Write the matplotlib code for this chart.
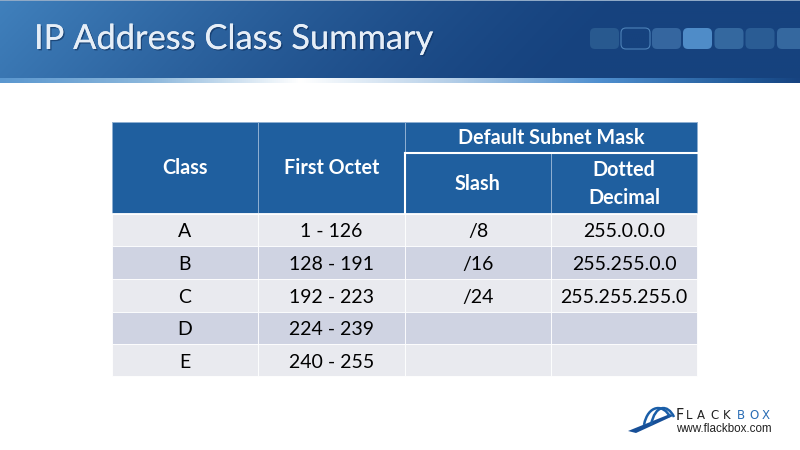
import matplotlib
matplotlib.use('Agg')
import matplotlib.pyplot as plt
import matplotlib.patheffects as pe
import numpy as np
from matplotlib.patches import Rectangle, FancyBboxPatch, Polygon, PathPatch
from matplotlib.path import Path

# Table contents
title = 'IP Address Class Summary'
classes = ['A', 'B', 'C', 'D', 'E']
first_octet = ['1 - 126', '128 - 191', '192 - 223', '224 - 239', '240 - 255']
slash = ['/8', '/16', '/24', '', '']
dotted = ['255.0.0.0', '255.255.0.0', '255.255.255.0', '', '']

col_edges = [112, 258, 405, 551, 697]
row_edges = [213.5, 246, 279, 311.5, 344, 376]

blue = '#1f5f9f'
light = '#e9eaef'
dark = '#cfd3e2'
font = 'Lato'

fig = plt.figure(figsize=(8, 4.5), dpi=100)
ax = fig.add_axes([0, 0, 1, 1])

# Banner gradient
xx = np.linspace(0, 1, 400)
yy = np.linspace(0, 1, 40)
gx, gy = np.meshgrid(xx, yy)
left = np.array([0x40, 0x80, 0xbc]) / 255
right = np.array([0x16, 0x42, 0x7e]) / 255
t = np.clip(gx / 0.8 + 0.12 * gy, 0, 1)[..., None]
grad = left * (1 - t) ** 1.4 + right * (1 - (1 - t) ** 1.4)
ax.imshow(grad, extent=[0, 800, 83, 0], aspect='auto', zorder=0)
ax.add_patch(Rectangle((0, 0), 800, 1.2, color='#8fa9c6', lw=0, zorder=1))

# Glow strip under the banner
stops_x = [0, 150, 300, 450, 600, 750, 800]
stops_r = [0x5a, 0x8d, 0xff, 0xb5, 0x4f, 0x1f, 0x17]
stops_g = [0x97, 0xb8, 0xff, 0xcf, 0x8f, 0x57, 0x43]
stops_b = [0xcf, 0xdc, 0xff, 0xe8, 0xcf, 0x96, 0x80]
px = xx * 800
strip = np.ones((1, 400, 3))
strip[0, :, 0] = np.interp(px, stops_x, stops_r) / 255
strip[0, :, 1] = np.interp(px, stops_x, stops_g) / 255
strip[0, :, 2] = np.interp(px, stops_x, stops_b) / 255
ax.imshow(strip, extent=[0, 800, 83, 78], aspect='auto', zorder=1)
ax.set_xlim(0, 800)
ax.set_ylim(450, 0)
ax.axis('off')

ax.text(34, 49, title, color='#e6eef7', fontsize=24.8, family='Lato',
        va='baseline', ha='left', zorder=3,
        path_effects=[pe.withSimplePatchShadow(offset=(1, -1), shadow_rgbFace='#0c2c58', alpha=0.6), pe.Normal()])

# Navigation squares
sq_x = [590, 621, 652, 683, 714.5, 745.5, 777]
sq_col = ['#28598f', None, '#35669f', '#4f8cc8', '#34689f', '#2a5c94', '#35689f']
for x, c in zip(sq_x, sq_col):
    ec = '#4d82b8' if c is None else 'none'
    ax.add_patch(FancyBboxPatch((x + 4, 32), 21, 13, boxstyle='round,pad=4,rounding_size=5',
                                fc=c if c else 'none', ec=ec, lw=0.8, zorder=2))

# Table body
for i in range(5):
    for j in range(4):
        c = light if i % 2 == 0 else dark
        ax.add_patch(Rectangle((col_edges[j], row_edges[i]),
                               col_edges[j + 1] - col_edges[j], row_edges[i + 1] - row_edges[i],
                               fc=c, ec='white', lw=0.6, zorder=2))
    cells = [classes[i], first_octet[i], slash[i], dotted[i]]
    yc = (row_edges[i] + row_edges[i + 1]) / 2
    for j, s in enumerate(cells):
        xc = (col_edges[j] + col_edges[j + 1]) / 2
        ax.text(xc, yc + 2, s, fontsize=14, family=font, color='black',
                ha='center', va='center', zorder=3)

# Header cells
hdr = [(112, 122, 146, 91), (258, 122, 147, 91), (405, 122, 292, 31),
       (405, 153, 146, 60), (551, 153, 146, 60)]
for x, y, w, h in hdr:
    ax.add_patch(Rectangle((x, y), w, h, fc=blue, ec='#8fb0d2', lw=0.7, zorder=2))
ax.plot([405, 697], [153, 153], color='white', lw=1.5, zorder=3)
ax.plot([405, 405], [153, 213], color='white', lw=1.5, zorder=3)
ax.plot([112, 697], [213.5, 213.5], color='white', lw=1.2, zorder=3)

hdr_txt = [(185, 168.5, 'Class'), (332, 168.5, 'First Octet'), (551, 138.5, 'Default Subnet Mask'),
           (478, 184.5, 'Slash'), (624, 170.5, 'Dotted'), (624, 198, 'Decimal')]
for x, y, s in hdr_txt:
    ax.text(x, y, s, fontsize=14.2, family=font, fontweight='bold', color='white',
            ha='center', va='center', zorder=4)

# Logo
logo_blue = '#1a5ea8'
ax.add_patch(Polygon([[628, 431], [670, 414], [673, 416], [636, 433]], fc='#174f97', ec='none', zorder=3))
for x0, x1 in [(644, 670), (651, 674)]:
    arc = Path([(x0, 425), (x0 + 4, 404), (x1 - 6, 404), (x1, 417)],
               [Path.MOVETO, Path.CURVE4, Path.CURVE4, Path.CURVE4])
    ax.add_patch(PathPatch(arc, fc='none', ec=logo_blue, lw=1.8, zorder=3))
ax.text(676, 415, 'F', fontsize=10.5, family='DejaVu Sans', color='#222222', va='center', zorder=3)
for x, s in zip([686, 697, 710, 723], 'LACK'):
    ax.text(x, 415.5, s, fontsize=8.5, family='DejaVu Sans', color='#222222', va='center', zorder=3)
for x, s in zip([737, 749, 762], 'BOX'):
    ax.text(x, 415.5, s, fontsize=8.5, family='DejaVu Sans', color='#2a6db5', va='center', zorder=3)
ax.text(676, 429.5, 'www.flackbox.com', fontsize=8.4, family='Liberation Sans', color='#222222',
        va='center', zorder=3)

fig.savefig('out.png', dpi=100)
